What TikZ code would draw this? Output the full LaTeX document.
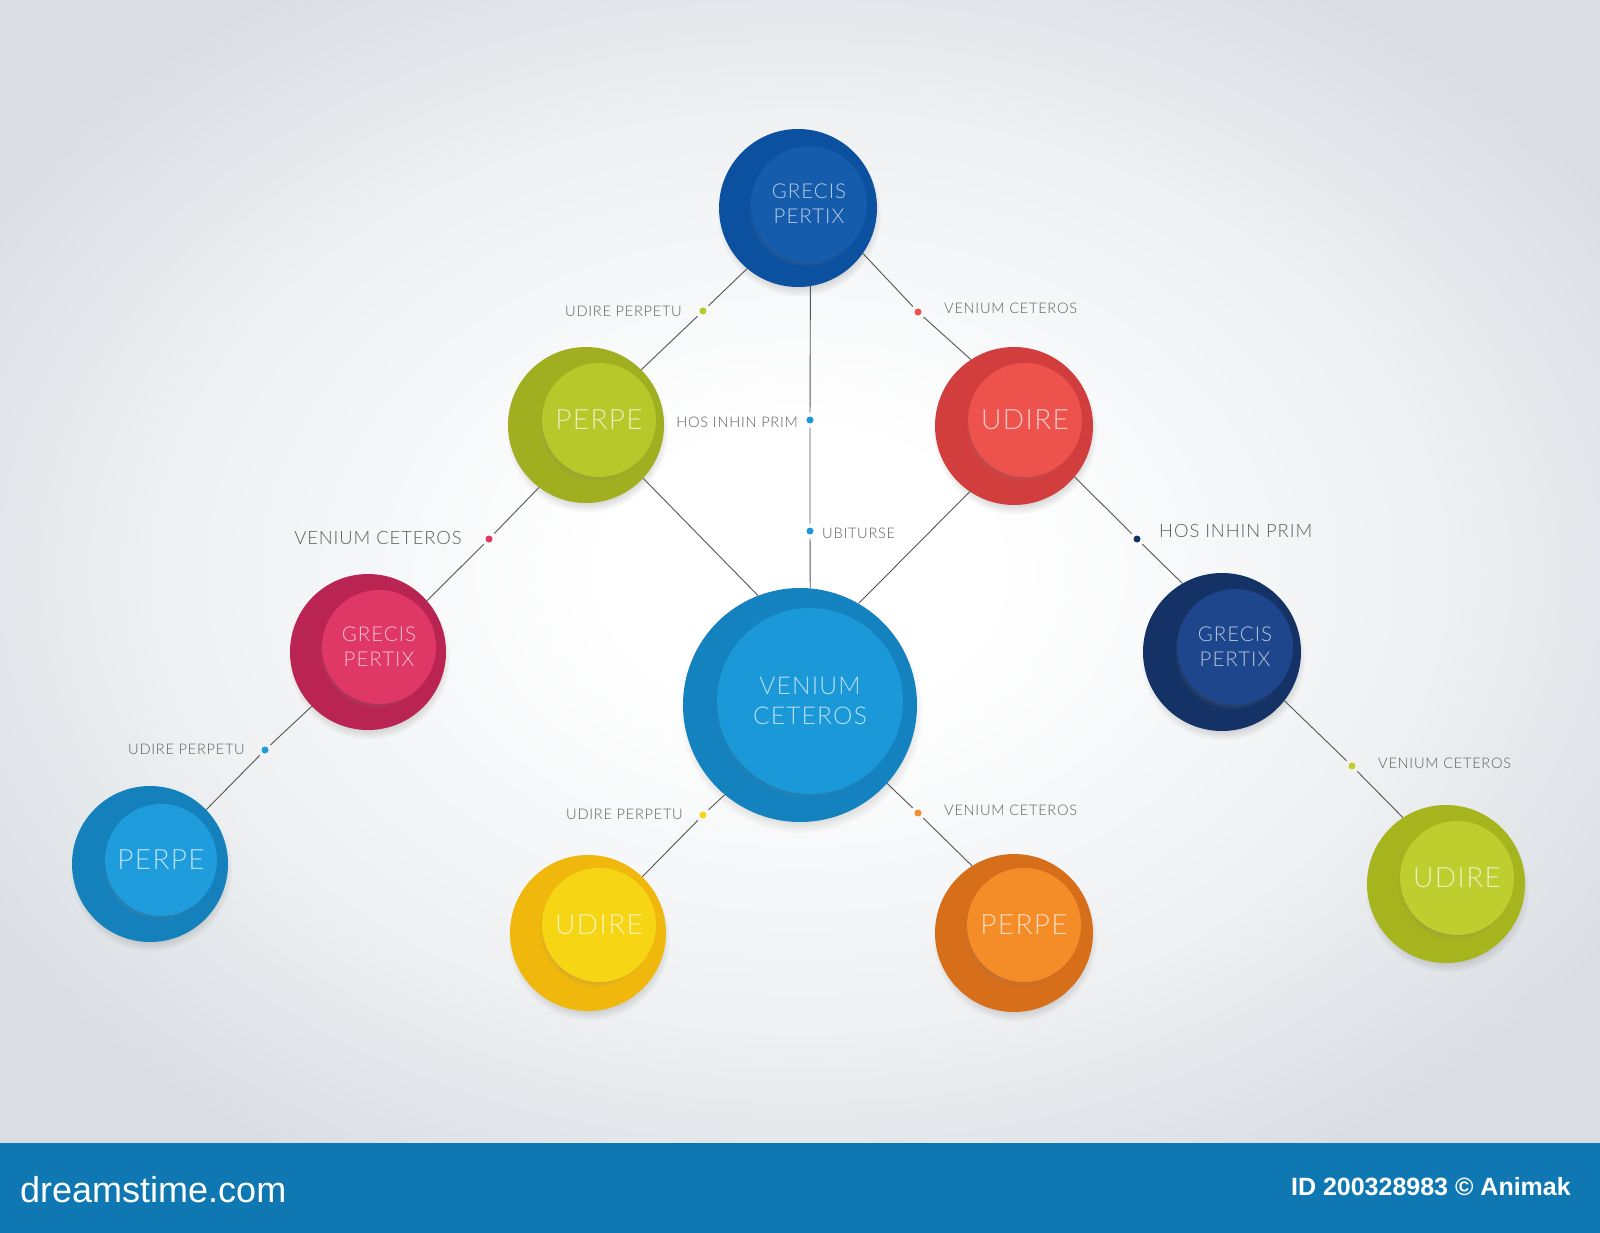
\documentclass[tikz,border=0pt]{standalone}
\usepackage{fontspec}
\setmainfont{Liberation Sans}
\IfFontExistsTF{Lato Light}{\newfontfamily\thinfont{Lato Light}[LetterSpace=5]}{%
  \IfFontExistsTF{Open Sans Light}{\newfontfamily\thinfont{Open Sans Light}[LetterSpace=3]}{%
    \newfontfamily\thinfont{Lato}[LetterSpace=5]}}
\usetikzlibrary{shadows,fadings}
\definecolor{bgedge}{RGB}{218,222,227}
\definecolor{bgmid}{RGB}{238,240,242}
\definecolor{lnc}{RGB}{85,85,85}
\definecolor{lblc}{RGB}{95,95,95}
\definecolor{topO}{RGB}{12,80,160}\definecolor{topI}{RGB}{22,92,172}
\definecolor{grnO}{RGB}{160,175,32}\definecolor{grnI}{RGB}{182,200,42}
\definecolor{redO}{RGB}{210,62,62}\definecolor{redI}{RGB}{238,82,76}
\definecolor{pnkO}{RGB}{185,36,82}\definecolor{pnkI}{RGB}{224,56,102}
\definecolor{navO}{RGB}{20,50,102}\definecolor{navI}{RGB}{30,70,140}
\definecolor{cenO}{RGB}{20,130,190}\definecolor{cenI}{RGB}{26,152,216}
\definecolor{bluO}{RGB}{20,128,188}\definecolor{bluI}{RGB}{30,156,220}
\definecolor{yelO}{RGB}{240,184,12}\definecolor{yelI}{RGB}{246,214,20}
\definecolor{orgO}{RGB}{214,110,26}\definecolor{orgI}{RGB}{244,140,40}
\definecolor{limO}{RGB}{166,180,30}\definecolor{limI}{RGB}{190,206,46}
\definecolor{band}{RGB}{15,120,178}
\pgfdeclareradialshading{bgshade}{\pgfpoint{0bp}{0bp}}{color(0bp)=(white); color(6bp)=(white); color(20bp)=(bgmid); color(30bp)=(bgedge); color(50bp)=(bgedge)}
\tikzset{
  bubO/.style 2 args={circle, inner sep=0pt, minimum size=#2pt, fill=#1,
    circular drop shadow={shadow xshift=1pt, shadow yshift=-6pt, opacity=0.35, shadow scale=1.04}},
  bubI/.style 2 args={circle, inner sep=0pt, minimum size=#2pt, fill=#1, text=white!68!#1, align=center,
    circular drop shadow={shadow xshift=-3pt, shadow yshift=-5pt, opacity=0.3, shadow scale=1.0}},
  tx1/.style={font=\thinfont\fontsize{28}{30}\selectfont},
  tx2/.style={font=\thinfont\fontsize{20.5}{25}\selectfont},
  tx3/.style={font=\thinfont\fontsize{24.5}{30}\selectfont},
  conn/.style={draw=lnc, line width=0.9pt},
  dotn/.style={circle, fill=#1, inner sep=0pt, minimum size=7pt, outer sep=4pt},
  lblS/.style={text=lblc, inner sep=0pt, font=\thinfont\fontsize{14.6}{15}\selectfont},
  lblL/.style={text=lblc, inner sep=0pt, font=\thinfont\fontsize{18.4}{19}\selectfont},
}
\begin{document}
\begin{tikzpicture}[x=1pt,y=-1pt]
\useasboundingbox (0,0) rectangle (1600,1233);
\shade[shading=bgshade] (0,0) rectangle (1600,1143);
\fill[band] (0,1143) rectangle (1600,1233);

% bubbles
\node[bubO={topO}{158}] (nTop) at (798,208) {};
\node[bubI={topI}{116}, tx2] (iTop) at (809,204) {GRECIS\\PERTIX};
\node[bubO={grnO}{156}] (nGrn) at (586,425) {};
\node[bubI={grnI}{114}, tx1] (iGrn) at (599,420) {PERPE};
\node[bubO={redO}{158}] (nRed) at (1014,426) {};
\node[bubI={redI}{114}, tx1] (iRed) at (1025,420) {UDIRE};
\node[bubO={pnkO}{156}] (nPnk) at (368,652) {};
\node[bubI={pnkI}{114}, tx2] (iPnk) at (379,647) {GRECIS\\PERTIX};
\node[bubO={cenO}{234}] (nCen) at (800,705) {};
\node[bubI={cenI}{186}, tx3] (iCen) at (810,701) {VENIUM\\CETEROS};
\node[bubO={navO}{158}] (nNav) at (1222,652) {};
\node[bubI={navI}{116}, tx2] (iNav) at (1235,647) {GRECIS\\PERTIX};
\node[bubO={bluO}{156}] (nBlu) at (150,864) {};
\node[bubI={bluI}{112}, tx1] (iBlu) at (161,860) {PERPE};
\node[bubO={yelO}{156}] (nYel) at (588,933) {};
\node[bubI={yelI}{114}, tx1] (iYel) at (599,925) {UDIRE};
\node[bubO={orgO}{158}] (nOrg) at (1014,933) {};
\node[bubI={orgI}{114}, tx1] (iOrg) at (1024,925) {PERPE};
\node[bubO={limO}{158}] (nLim) at (1446,884) {};
\node[bubI={limI}{114}, tx1] (iLim) at (1457,878) {UDIRE};

% dots
\node[dotn=grnI] (d1) at (703,311) {};
\node[dotn=redI] (d2) at (918,312) {};
\node[dotn=cenI] (d3) at (810,420) {};
\node[dotn=cenI] (d4) at (810,531) {};
\node[dotn=pnkI] (d5) at (489,539) {};
\node[dotn=navO] (d6) at (1137,539) {};
\node[dotn=bluI] (d7) at (265,750) {};
\node[dotn=limI] (d8) at (1352,766) {};
\node[dotn=yelI] (d9) at (703,815) {};
\node[dotn=orgI] (d10) at (918,813) {};

% connectors
\draw[conn] (nTop.230) -- (d1) -- (nGrn.45);
\draw[conn] (nTop.325) -- (d2) -- (nRed.123);
\draw[conn] (nTop.279) -- (d3) -- (d4) -- (nCen.85);
\draw[conn] (nGrn.317) -- (nCen.111);
\draw[conn] (nRed.236) -- (nCen.60);
\draw[conn] (nGrn.233) -- (d5) -- (nPnk.41);
\draw[conn] (nRed.320) -- (d6) -- (nNav.120);
\draw[conn] (nPnk.224) -- (d7) -- (nBlu.44);
\draw[conn] (nNav.322) -- (d8) -- (nLim.123);
\draw[conn] (nCen.230) -- (d9) -- (nYel.46);
\draw[conn] (nCen.318) -- (d10) -- (nOrg.122);

% labels
\node[lblS, anchor=east] (l1) at (682,311) {UDIRE PERPETU};
\node[lblS, anchor=west] (l2) at (944,308) {VENIUM CETEROS};
\node[lblS, anchor=east] (l3) at (798,422) {HOS INHIN PRIM};
\node[lblS, anchor=west] (l4) at (822,533) {UBITURSE};
\node[lblL, anchor=east] (l5) at (462,538) {VENIUM CETEROS};
\node[lblL, anchor=west] (l6) at (1159,531) {HOS INHIN PRIM};
\node[lblS, anchor=east] (l7) at (245,749) {UDIRE PERPETU};
\node[lblS, anchor=west] (l8) at (1378,763) {VENIUM CETEROS};
\node[lblS, anchor=east] (l9) at (683,814) {UDIRE PERPETU};
\node[lblS, anchor=west] (l10) at (944,810) {VENIUM CETEROS};

% banner
\node[anchor=west, text=white, inner sep=0pt, font=\fontsize{36}{36}\selectfont] (wm) at (20,1190) {dreamstime.com};
\node[anchor=east, text=white, inner sep=0pt, font=\bfseries\fontsize{25}{25}\selectfont] (idt) at (1571,1187) {ID 200328983 © Animak};
\end{tikzpicture}
\end{document}
